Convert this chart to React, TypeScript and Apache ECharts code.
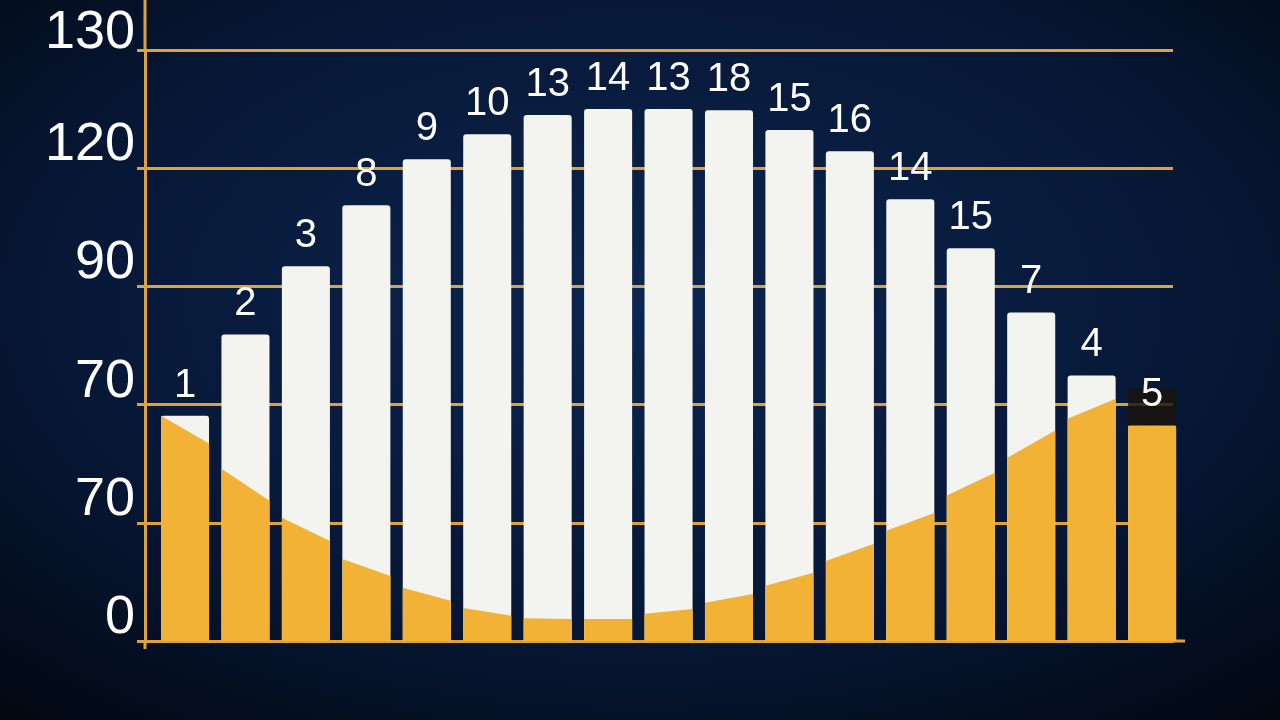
import React, { useEffect, useRef } from "react";
import * as echarts from "echarts";

const categories = ["A1", "A2", "A3", "A4", "A5", "A6", "A7", "A8", "A9", "A10", "A11", "A12", "A13", "A14", "A15", "A16", "A17"];
const barLabels = ["1", "2", "3", "8", "9", "10", "13", "14", "13", "18", "15", "16", "14", "15", "7", "4", "5"];
const totalValues = [57.2, 77.8, 95.1, 110.6, 122.3, 128.6, 133.5, 135.0, 135.0, 134.7, 129.7, 124.3, 112.1, 99.7, 83.4, 67.4, 54.7];
const orangeLeftValues = [57.2, 43.7, 31.3, 20.8, 13.5, 8.4, 5.8, 5.6, 6.9, 9.7, 14.0, 20.3, 28.0, 36.9, 46.5, 56.4, 54.7];
const orangeRightValues = [50.1, 35.6, 25.4, 16.5, 10.2, 6.4, 5.6, 5.6, 8.1, 11.9, 17.3, 24.7, 32.5, 42.7, 53.4, 61.5, 54.7];
const bandValues = [0, 0, 0, 0, 0, 0, 0, 0, 0, 0, 0, 0, 0, 0, 0, 0, 9.4];
const yTickLabels = ["0", "70", "70", "90", "120", "130"];

const LINE = "#DDA23E";
const ORANGE = "#F1B236";
const WHITE = "#F3F3F0";
const FONT = "'Liberation Sans', Arial, sans-serif";

const rows = categories.map((c, i) => [i, totalValues[i], orangeLeftValues[i], orangeRightValues[i], bandValues[i]]);

function renderBar(params: any, api: any) {
  const idx = api.value(0);
  const total = api.value(1);
  const oL = api.value(2);
  const oR = api.value(3);
  const band = api.value(4);
  const slot = api.size([1, 0])[0];
  const w = slot * 0.795;
  const [cx, yTop] = api.coord([idx, total]);
  const y0 = api.coord([idx, 0])[1];
  const yL = api.coord([idx, oL])[1];
  const yR = api.coord([idx, oR])[1];
  const x0 = cx - w / 2;
  const x1 = cx + w / 2;
  const children: any[] = [
    {
      type: "rect",
      shape: { x: x0, y: yTop, width: w, height: y0 - yTop, r: [3, 3, 0, 0] },
      style: { fill: WHITE },
    },
    {
      type: "polygon",
      shape: { points: [[x0, y0], [x0, yL], [x1, yR], [x1, y0]] },
      style: { fill: ORANGE },
    },
  ];
  if (band > 0) {
    const yBand = api.coord([idx, total + band])[1];
    children.push({
      type: "rect",
      shape: { x: x0, y: yBand, width: w, height: yTop - yBand },
      style: { fill: "rgba(24,20,10,0.82)" },
    });
  }
  children.push({
    type: "text",
    x: cx,
    y: yTop - 13,
    style: {
      text: barLabels[params.dataIndex],
      fill: "#ffffff",
      fontSize: 40,
      fontFamily: FONT,
      align: "center",
      verticalAlign: "bottom",
    },
  });
  return { type: "group", children };
}

const labelStyle = { color: "#ffffff", fontSize: 54, fontFamily: FONT };

export default function App() {
  const ref = useRef<HTMLDivElement>(null);
  useEffect(() => {
    if (!ref.current) return;
    const chart = echarts.init(ref.current, null, { renderer: "svg" });
    chart.setOption({
      animation: false,
      backgroundColor: {
        type: "radial",
        x: 0.5,
        y: 0.42,
        r: 0.75,
        colorStops: [
          { offset: 0, color: "#0c2650" },
          { offset: 0.6, color: "#071736" },
          { offset: 1, color: "#020913" },
        ],
      },
      grid: [
        { left: 145, right: 107, top: 50, bottom: 79 },
        { left: 154.8, right: 97.7, top: 50, bottom: 79 },
      ],
      xAxis: [
        {
          gridIndex: 0,
          type: "value",
          min: 0,
          max: 1,
          axisLine: { show: true, lineStyle: { color: LINE, width: 3 } },
          axisTick: { show: false },
          axisLabel: { show: false },
          splitLine: { show: false },
        },
        {
          gridIndex: 1,
          type: "category",
          data: categories,
          show: false,
        },
      ],
      yAxis: [
        {
          gridIndex: 0,
          type: "value",
          min: 0,
          max: 150,
          interval: 30,
          axisLine: { show: true, lineStyle: { color: LINE, width: 3 } },
          axisTick: { show: true, length: 8, lineStyle: { color: LINE, width: 3 } },
          axisLabel: {
            color: "#ffffff",
            fontSize: 54,
            fontFamily: FONT,
            margin: 10,
            verticalAlign: "bottom",
            formatter: (v: number) => {
              const i = Math.round(v / 30);
              const t = yTickLabels[i] ?? "";
              return i === yTickLabels.length - 1 ? `{t|${t}}` : `{n|${t}}`;
            },
            rich: {
              n: { ...labelStyle, lineHeight: 54 },
              t: { ...labelStyle, lineHeight: 42 },
            },
          },
          splitLine: { show: true, lineStyle: { color: LINE, width: 3 } },
        },
        {
          gridIndex: 1,
          type: "value",
          min: 0,
          max: 150,
          show: false,
          splitLine: { show: false },
        },
      ],
      graphic: [
        { type: "line", shape: { x1: 145, y1: 0, x2: 145, y2: 50 }, style: { stroke: LINE, lineWidth: 3 } },
        { type: "line", shape: { x1: 145, y1: 641, x2: 145, y2: 649 }, style: { stroke: LINE, lineWidth: 3 } },
        { type: "line", shape: { x1: 1170, y1: 641, x2: 1185, y2: 641 }, style: { stroke: LINE, lineWidth: 3 } },
      ],
      series: [
        {
          type: "custom",
          xAxisIndex: 1,
          yAxisIndex: 1,
          renderItem: renderBar,
          encode: { x: 0, y: 1 },
          data: rows,
          clip: false,
        },
      ],
    });
    return () => chart.dispose();
  }, []);
  return (
    <div
      ref={ref}
      style={{ position: "fixed", left: 0, top: 0, width: 1280, height: 720 }}
    />
  );
}
